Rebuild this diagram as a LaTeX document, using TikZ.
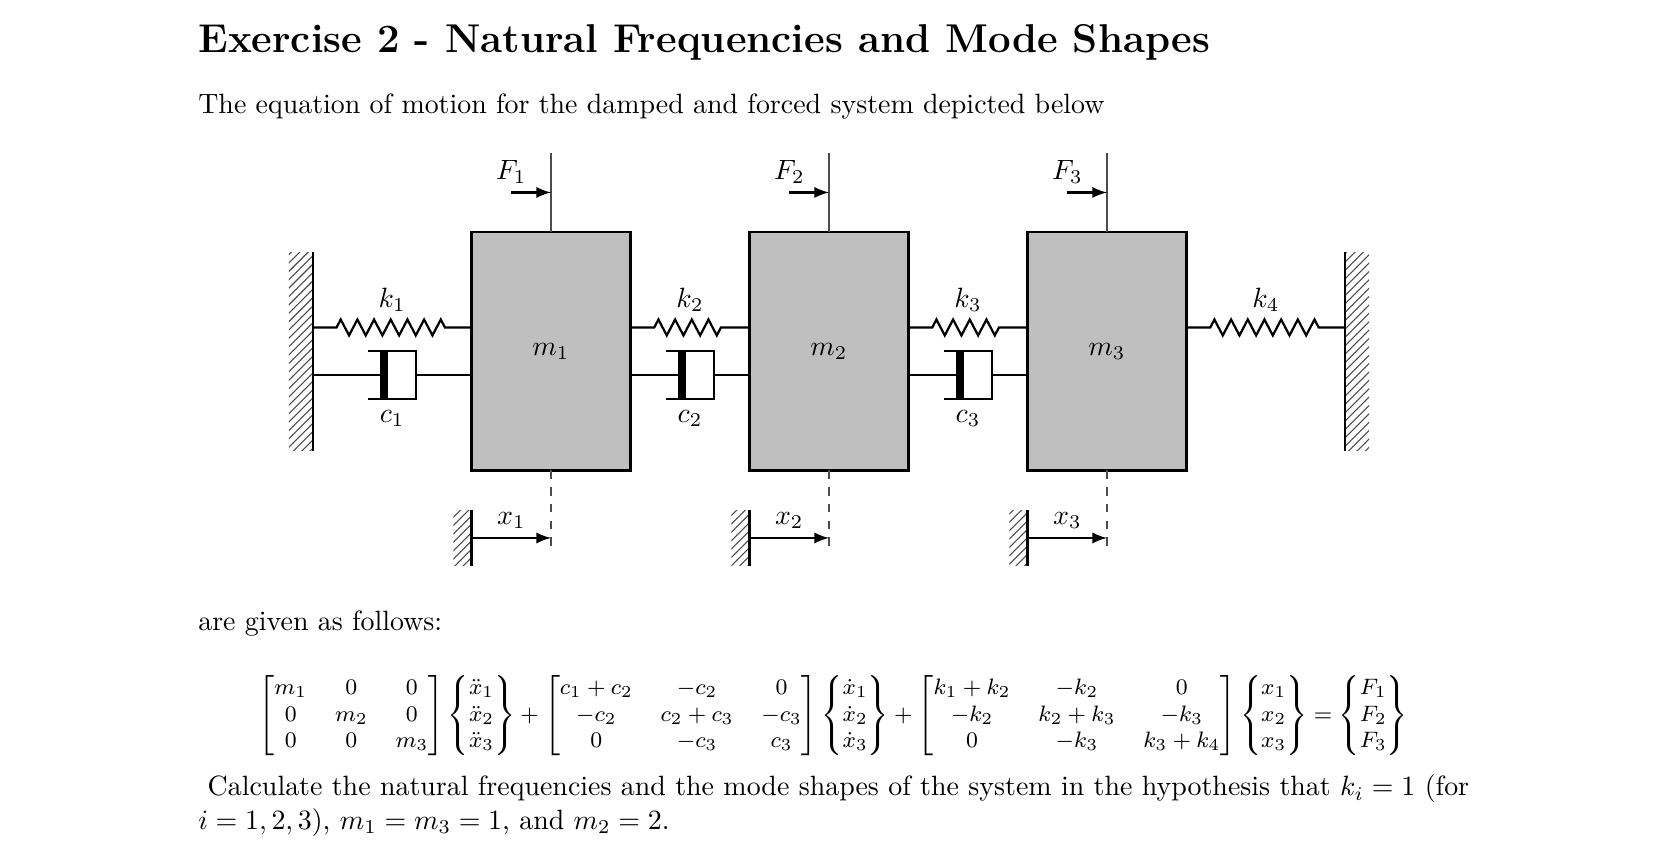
\documentclass[tikz,border=0pt]{standalone}
\usepackage{amsmath}
\usetikzlibrary{positioning, calc, patterns, decorations.pathmorphing}

\newcommand{\dashpot}[3]{%
	\coordinate (#1) at ($(#2)!.5!(#3)$);
	\node (#1bar) [pistonbar, xshift=-1mm] at (#1) {};
	\draw[thick] (#2) -- (#1bar.west);
	\draw[thick] ([shift={(-3mm,3mm)}]#1) -- ([shift={(3mm,3mm)}]#1) -- ([shift={(3mm,-3mm)}]#1) -- ([shift={(-3mm,-3mm)}]#1);
	\draw[thick] ([xshift=3mm]#1) -- (#3);
}

\begin{document}
\begin{tikzpicture}[
					>=latex,
					massbox/.style={draw, thick, fill=lightgray, minimum width=2cm, minimum height=3cm, inner sep=0pt, outer sep=0pt},
					wallbox/.style={pattern=north east lines, pattern color=black!70, minimum width=3mm, minimum height=2.5cm, inner sep=0pt, outer sep=0pt},
					gndbox/.style={pattern=north east lines, pattern color=black!70, minimum width=2.3mm, minimum height=7mm, inner sep=0pt, outer sep=0pt},
					pistonbar/.style={fill=black, minimum width=1mm, minimum height=6mm, inner sep=0pt, outer sep=0pt},
					springline/.style={thick, decoration={zigzag, segment length=2.1mm, amplitude=1mm, pre length=3mm, post length=3mm}, decorate},
					guideline/.style={draw=black!70},
					dirarrow/.style={->, thick},
					plaintext/.style={anchor=base west, inner xsep=0pt}]
					\useasboundingbox (0,0) rectangle (21,10.638);
					\node (title) [plaintext] at (2.49,9.983) {\Large\bfseries Exercise 2 - Natural Frequencies and Mode Shapes};
					\node (intro) [plaintext] at (2.49,9.213) {The equation of motion for the damped and forced system depicted below};
					\node (mass1) [massbox] at (6.937,6.215) {$m_1$};
					\node (mass2) [massbox, right=1.5cm of mass1] {$m_2$};
					\node (mass3) [massbox, right=1.5cm of mass2] {$m_3$};
					\node (wallL) [wallbox, left=2cm of mass1, anchor=east] {};
					\node (wallR) [wallbox, right=2cm of mass3, anchor=west] {};
					\draw[thick] (wallL.north east) -- (wallL.south east);
					\draw[thick] (wallR.north west) -- (wallR.south west);
					\draw[springline] ([yshift=3mm]wallL.east) -- node[above=.7mm] (k1) {$k_1$} ([yshift=3mm]mass1.west);
					\draw[springline] ([yshift=3mm]mass1.east) -- node[above=.7mm] (k2) {$k_2$} ([yshift=3mm]mass2.west);
					\draw[springline] ([yshift=3mm]mass2.east) -- node[above=.7mm] (k3) {$k_3$} ([yshift=3mm]mass3.west);
					\draw[springline] ([yshift=3mm]mass3.east) -- node[above=.7mm] (k4) {$k_4$} ([yshift=3mm]wallR.west);
					\coordinate (a1) at ([yshift=-3mm]wallL.east);
					\coordinate (b1) at ([yshift=-3mm]mass1.west);
					\coordinate (a2) at ([yshift=-3mm]mass1.east);
					\coordinate (b2) at ([yshift=-3mm]mass2.west);
					\coordinate (a3) at ([yshift=-3mm]mass2.east);
					\coordinate (b3) at ([yshift=-3mm]mass3.west);
					\dashpot{d1}{a1}{b1}
					\dashpot{d2}{a2}{b2}
					\dashpot{d3}{a3}{b3}
					\node (c1) [below=3.15mm of d1] {$c_1$};
					\node (c2) [below=3.15mm of d2] {$c_2$};
					\node (c3) [below=3.15mm of d3] {$c_3$};
					\coordinate (top1) at ([yshift=1cm]mass1.north);
					\coordinate (top2) at ([yshift=1cm]mass2.north);
					\coordinate (top3) at ([yshift=1cm]mass3.north);
					\draw[guideline] (mass1.north) -- (top1);
					\draw[guideline] (mass2.north) -- (top2);
					\draw[guideline] (mass3.north) -- (top3);
					\coordinate (f1) at ([yshift=5mm]mass1.north);
					\coordinate (f2) at ([yshift=5mm]mass2.north);
					\coordinate (f3) at ([yshift=5mm]mass3.north);
					\coordinate (s1) at ([xshift=-5mm]f1);
					\coordinate (s2) at ([xshift=-5mm]f2);
					\coordinate (s3) at ([xshift=-5mm]f3);
					\draw[dirarrow] (s1) -- (f1);
					\draw[dirarrow] (s2) -- (f2);
					\draw[dirarrow] (s3) -- (f3);
					\node (F1) [above=-.1mm of s1] {$F_1$};
					\node (F2) [above=-.1mm of s2] {$F_2$};
					\node (F3) [above=-.1mm of s3] {$F_3$};
					\coordinate (e1) at ([yshift=-9.5mm]mass1.south);
					\coordinate (e2) at ([yshift=-9.5mm]mass2.south);
					\coordinate (e3) at ([yshift=-9.5mm]mass3.south);
					\draw[guideline, dashed] (mass1.south) -- (e1);
					\draw[guideline, dashed] (mass2.south) -- (e2);
					\draw[guideline, dashed] (mass3.south) -- (e3);
					\node (g1) [gndbox, anchor=east] at ([yshift=-8.5mm]mass1.south west) {};
					\node (g2) [gndbox, anchor=east] at ([yshift=-8.5mm]mass2.south west) {};
					\node (g3) [gndbox, anchor=east] at ([yshift=-8.5mm]mass3.south west) {};
					\draw[thick] (g1.north east) -- (g1.south east);
					\draw[thick] (g2.north east) -- (g2.south east);
					\draw[thick] (g3.north east) -- (g3.south east);
					\coordinate (h1) at ([yshift=-8.5mm]mass1.south);
					\coordinate (h2) at ([yshift=-8.5mm]mass2.south);
					\coordinate (h3) at ([yshift=-8.5mm]mass3.south);
					\draw[dirarrow] (g1.east) -- node[above=-.15mm] (x1) {$x_1$} (h1);
					\draw[dirarrow] (g2.east) -- node[above=-.15mm] (x2) {$x_2$} (h2);
					\draw[dirarrow] (g3.east) -- node[above=-.15mm] (x3) {$x_3$} (h3);
					\node (given) [plaintext] at (2.49,2.697) {are given as follows:};
					\node (eqn) [font=\footnotesize] at (10.49,1.627) {$\begin{bmatrix} m_1 & 0 & 0 \\ 0 & m_2 & 0 \\ 0 & 0 & m_3 \end{bmatrix}
					\begin{Bmatrix} \ddot{x}_1 \\ \ddot{x}_2 \\ \ddot{x}_3 \end{Bmatrix} +
					\begin{bmatrix} c_1+c_2 & -c_2 & 0 \\ -c_2 & c_2+c_3 & -c_3 \\ 0 & -c_3 & c_3 \end{bmatrix}
					\begin{Bmatrix} \dot{x}_1 \\ \dot{x}_2 \\ \dot{x}_3 \end{Bmatrix} +
					\begin{bmatrix} k_1+k_2 & -k_2 & 0 \\ -k_2 & k_2+k_3 & -k_3 \\ 0 & -k_3 & k_3+k_4 \end{bmatrix}
					\begin{Bmatrix} x_1 \\ x_2 \\ x_3 \end{Bmatrix} =
					\begin{Bmatrix} F_1 \\ F_2 \\ F_3 \end{Bmatrix}$};
					\node (closing) [plaintext, text width=16cm, align=justify] at (2.49,0.617) {\ Calculate the natural frequencies and the mode shapes of the system in the hypothesis that $k_i=1$ (for $i=1,2,3$), $m_1=m_3=1$, and $m_2=2$.};
				\end{tikzpicture}
\end{document}
